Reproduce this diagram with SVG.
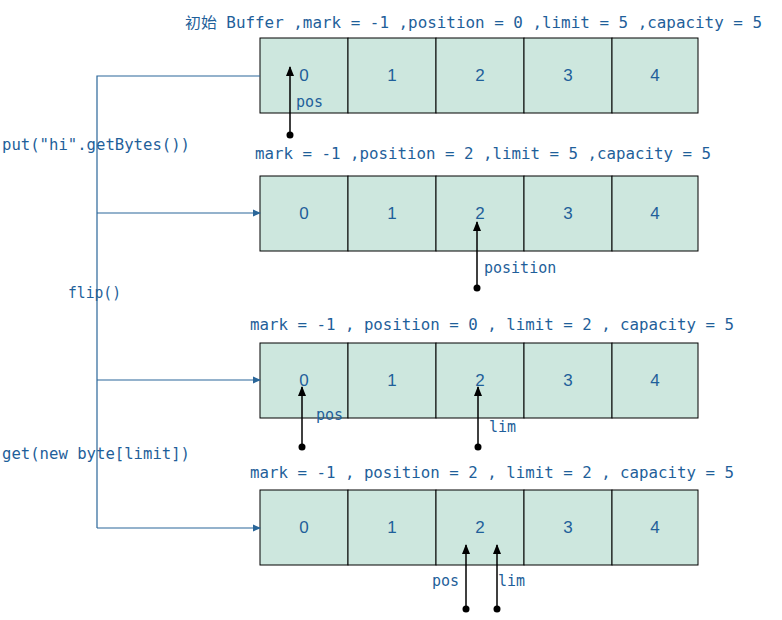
<svg xmlns="http://www.w3.org/2000/svg" width="782" height="620" viewBox="0 0 782 620">
<style>
.c{fill:#cde7de;stroke:#000;stroke-width:1}
.n{font-family:"Liberation Sans",sans-serif;font-size:17px;fill:#1f5f9a;text-anchor:middle}
.t{font-family:"DejaVu Sans Mono","Noto Sans CJK SC",monospace;font-size:15px;fill:#1f5f9a}
.b{stroke:#2a6699;stroke-width:1.2;fill:none}
.p{stroke:#000;stroke-width:1.5;fill:none}
</style>
<defs>
<marker id="ab" markerWidth="8" markerHeight="8" refX="7" refY="4" orient="auto" markerUnits="userSpaceOnUse"><path d="M0,0.5 L8,4 L0,7.5 Z" fill="#2a6699"/></marker>
<marker id="ak" markerWidth="10" markerHeight="10" refX="9" refY="5" orient="auto" markerUnits="userSpaceOnUse"><path d="M0,1 L10,5 L0,9 Z" fill="#000"/></marker>
<marker id="dt" markerWidth="8" markerHeight="8" refX="4" refY="4" markerUnits="userSpaceOnUse"><circle cx="4" cy="4" r="3.5" fill="#000"/></marker>
<g id="row"><rect class="c" x="0" y="0" width="88" height="75"/><rect class="c" x="88" y="0" width="88" height="75"/><rect class="c" x="176" y="0" width="88" height="75"/><rect class="c" x="264" y="0" width="88" height="75"/><rect class="c" x="352" y="0" width="86" height="75"/>
<text class="n" x="44" y="43">0</text><text class="n" x="132" y="43">1</text><text class="n" x="220" y="43">2</text><text class="n" x="308" y="43">3</text><text class="n" x="395" y="43">4</text></g>
</defs>
<g id="buf1"><use href="#row" x="260" y="38"/></g>
<g id="buf2"><use href="#row" x="260" y="176"/></g>
<g id="buf3"><use href="#row" x="260" y="343"/></g>
<g id="buf4"><use href="#row" x="260" y="490"/></g>
<g id="labels">
<text class="t" x="185" y="28" textLength="577" lengthAdjust="spacingAndGlyphs">初始 Buffer ,mark = -1 ,position = 0 ,limit = 5 ,capacity = 5</text>
<text class="t" x="255" y="159" textLength="456" lengthAdjust="spacingAndGlyphs">mark = -1 ,position = 2 ,limit = 5 ,capacity = 5</text>
<text class="t" x="250" y="330" textLength="484" lengthAdjust="spacingAndGlyphs">mark = -1 , position = 0 , limit = 2 , capacity = 5</text>
<text class="t" x="250" y="478" textLength="484" lengthAdjust="spacingAndGlyphs">mark = -1 , position = 2 , limit = 2 , capacity = 5</text>
<text class="t" x="2" y="150" textLength="188" lengthAdjust="spacingAndGlyphs">put("hi".getBytes())</text>
<text class="t" x="68" y="298" textLength="53" lengthAdjust="spacingAndGlyphs">flip()</text>
<text class="t" x="2" y="459" textLength="188" lengthAdjust="spacingAndGlyphs">get(new byte[limit])</text>
<text class="t" x="296" y="107">pos</text>
<text class="t" x="484" y="273">position</text>
<text class="t" x="316" y="420">pos</text>
<text class="t" x="489" y="432">lim</text>
<text class="t" x="432" y="586">pos</text>
<text class="t" x="498" y="586">lim</text>
</g>
<g id="connectors">
<path class="b" d="M260,76 H97 V528"/>
<path class="b" d="M97,213 H260" marker-end="url(#ab)"/>
<path class="b" d="M97,380 H260" marker-end="url(#ab)"/>
<path class="b" d="M97,528 H260" marker-end="url(#ab)"/>
<path class="p" d="M290,135 V67" marker-start="url(#dt)" marker-end="url(#ak)"/>
<path class="p" d="M477,288 V222" marker-start="url(#dt)" marker-end="url(#ak)"/>
<path class="p" d="M302,447 V387" marker-start="url(#dt)" marker-end="url(#ak)"/>
<path class="p" d="M478,447 V387" marker-start="url(#dt)" marker-end="url(#ak)"/>
<path class="p" d="M466,609 V545" marker-start="url(#dt)" marker-end="url(#ak)"/>
<path class="p" d="M497,609 V545" marker-start="url(#dt)" marker-end="url(#ak)"/>
</g>
</svg>
